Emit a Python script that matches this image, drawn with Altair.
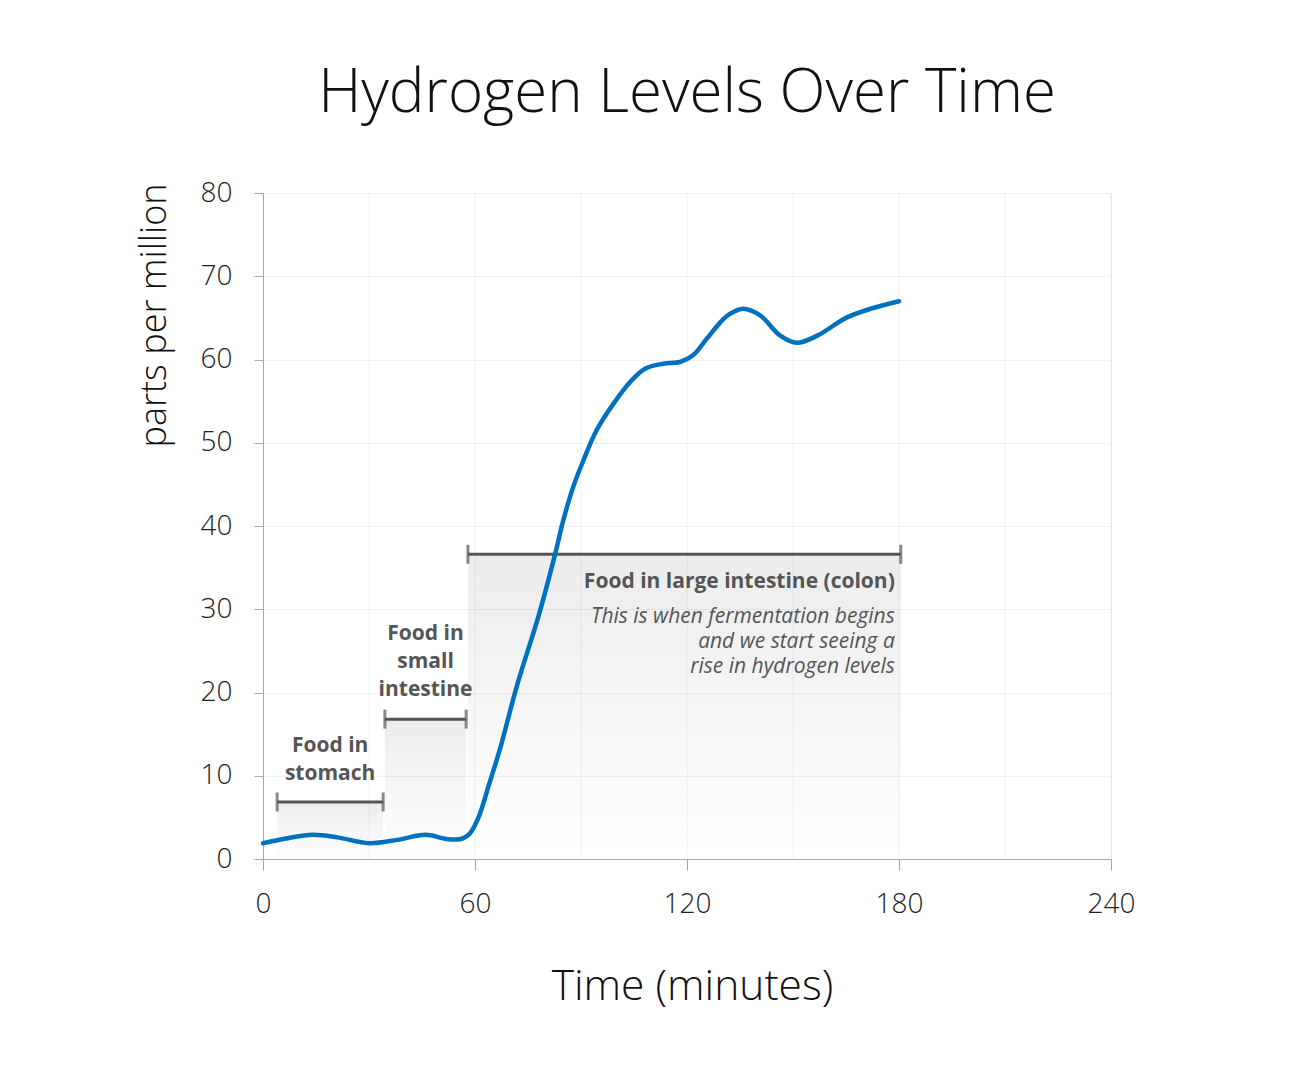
import altair as alt
import pandas as pd

# Hydrogen curve (minutes, ppm)
times = [0, 7, 14, 21, 30, 38, 46, 52, 56, 58.6, 61, 64, 67, 72, 78, 82.6, 85, 87.8, 90.7, 94.4,
         99.2, 103.9, 108.1, 113.3, 118, 121.7, 125.6, 129.3, 131.2, 133.1, 135.9, 140.7, 146.3,
         151.1, 157, 165, 172, 180]
ppm = [1.9, 2.5, 2.9, 2.6, 1.9, 2.3, 2.9, 2.4, 2.4, 3.1, 5, 9, 13.1, 21, 29.2, 36.5, 40.7, 44.7, 47.9, 51.5,
       54.7, 57.3, 58.9, 59.5, 59.7, 60.5, 62.5, 64.4, 65.2, 65.7, 66.1, 65.3, 62.9,
       62.0, 62.9, 65, 66.1, 67]

# Digestive phases
phase_names = ["stomach", "small", "large"]
phase_start = [4, 34.5, 58]
phase_end = [34, 57.5, 180.5]
phase_level = [6.85, 16.8, 36.6]
phase_labels = ["Food in\nstomach", "Food in\nsmall\nintestine", "Food in large intestine (colon)"]
phase_notes = ["", "", "This is when fermentation begins\nand we start seeing a\nrise in hydrogen levels"]

x_ticks = [0, 60, 120, 180, 240]
x_grid = [30, 60, 90, 120, 150, 180, 210, 240]
y_ticks = [0, 10, 20, 30, 40, 50, 60, 70, 80]

curve = pd.DataFrame({"t": times, "v": ppm})
phases = pd.DataFrame({
    "name": phase_names,
    "start": phase_start,
    "end": phase_end,
    "level": phase_level,
    "label": phase_labels,
    "note": phase_notes,
    "mid": [(a + b) / 2 for a, b in zip(phase_start, phase_end)],
})
grid = pd.DataFrame({"g": x_grid})

FONT = "Open Sans"
DARK = "#555555"

xs = alt.Scale(domain=[0, 240], nice=False)
ys = alt.Scale(domain=[0, 80], nice=False)

x_axis = alt.Axis(values=x_ticks, grid=False, tickSize=11, labelPadding=20,
                  title="Time (minutes)", titleFontSize=42.5, titleFontWeight=300,
                  titleColor="#111111", titleY=140, titleX=429, titleAlign="center",
                  titleBaseline="alphabetic",
                  labelFontSize=28, labelFont=FONT, labelFontWeight=300, labelColor="#222222",
                  domainColor="#a8a8a8", tickColor="#a8a8a8", labelFlush=False)
y_axis = alt.Axis(values=y_ticks, grid=True, gridColor="#f0f0f0", tickSize=9, labelPadding=22,
                  title="parts per million", titleFontSize=36, titleFontWeight=300,
                  titleColor="#111111", titleAngle=-90, titleAlign="right",
                  titleBaseline="alphabetic", titleX=-98, titleY=-10,
                  labelFontSize=28, labelFont=FONT, labelFontWeight=300, labelColor="#222222",
                  domainColor="#a8a8a8", tickColor="#a8a8a8")

base_x = alt.X("t:Q", scale=xs, axis=x_axis)

gridlines = alt.Chart(grid).mark_rule(color="#f0f0f0", strokeWidth=1).encode(
    x=alt.X("g:Q", scale=xs, axis=x_axis)
)

shade = alt.Chart(phases).mark_rect(
    fill=alt.Gradient(
        gradient="linear",
        stops=[alt.GradientStop(color="rgba(0,0,0,0.075)", offset=0),
               alt.GradientStop(color="rgba(0,0,0,0.0)", offset=1)],
        x1=0, x2=0, y1=0, y2=1,
    )
).encode(
    x=alt.X("start:Q", scale=xs, axis=x_axis),
    x2="end:Q",
    y=alt.Y("level:Q", scale=ys, axis=y_axis),
    y2=alt.datum(0),
)

bracket = alt.Chart(phases).mark_rule(color=DARK, strokeWidth=3).encode(
    x=alt.X("start:Q", scale=xs), x2="end:Q",
    y=alt.Y("level:Q", scale=ys),
)
cap_l = alt.Chart(phases).mark_tick(color=DARK, orient="vertical", size=19, thickness=3).encode(
    x=alt.X("start:Q", scale=xs), y=alt.Y("level:Q", scale=ys)
)
cap_r = alt.Chart(phases).mark_tick(color=DARK, orient="vertical", size=19, thickness=3).encode(
    x=alt.X("end:Q", scale=xs), y=alt.Y("level:Q", scale=ys)
)

line = alt.Chart(curve).mark_line(color="#0070c0", strokeWidth=4.5, interpolate="catmull-rom",
                                  strokeCap="round").encode(
    x=base_x, y=alt.Y("v:Q", scale=ys, axis=y_axis)
)


def phase_text(name, dy, **kw):
    return alt.Chart(phases).transform_filter(alt.datum.name == name).mark_text(
        font=FONT, fontSize=21, fontWeight="bold", color=DARK, lineBreak="\n",
        lineHeight=28, baseline="middle", align="center", dy=dy, **kw
    ).encode(x=alt.X("mid:Q", scale=xs), y=alt.Y("level:Q", scale=ys), text="label:N")


stomach_label = phase_text("stomach", -56)
small_label = phase_text("small", -85)

large_label = alt.Chart(phases).transform_filter(
    alt.datum.name == "large"
).mark_text(font=FONT, fontSize=21, fontWeight="bold", color=DARK,
            baseline="middle", align="right", dx=-6, dy=28).encode(
    x=alt.X("end:Q", scale=xs), y=alt.Y("level:Q", scale=ys), text="label:N"
)

note = alt.Chart(phases).transform_filter(
    alt.datum.name == "large"
).mark_text(font=FONT, fontSize=21, fontStyle="italic", fontWeight=400, color=DARK,
            lineBreak="\n", lineHeight=25, baseline="middle", align="right", dx=-6, dy=63).encode(
    x=alt.X("end:Q", scale=xs), y=alt.Y("level:Q", scale=ys), text="note:N"
)

chart = alt.layer(
    gridlines, shade, bracket, cap_l, cap_r, line, stomach_label, small_label, large_label, note
).properties(
    width=848, height=666,
    title=alt.TitleParams("Hydrogen Levels Over Time", font=FONT, fontSize=60, fontWeight=300,
                          color="#111111", anchor="middle", frame="group", offset=7,
                          baseline="alphabetic"),
    padding={"left": 255, "top": 185, "right": 150, "bottom": 190},
    autosize=alt.AutoSizeParams(type="none"),
).configure_view(stroke=None).configure(font=FONT)

chart.save("out.html", embed_options={"renderer": "svg", "actions": False})
